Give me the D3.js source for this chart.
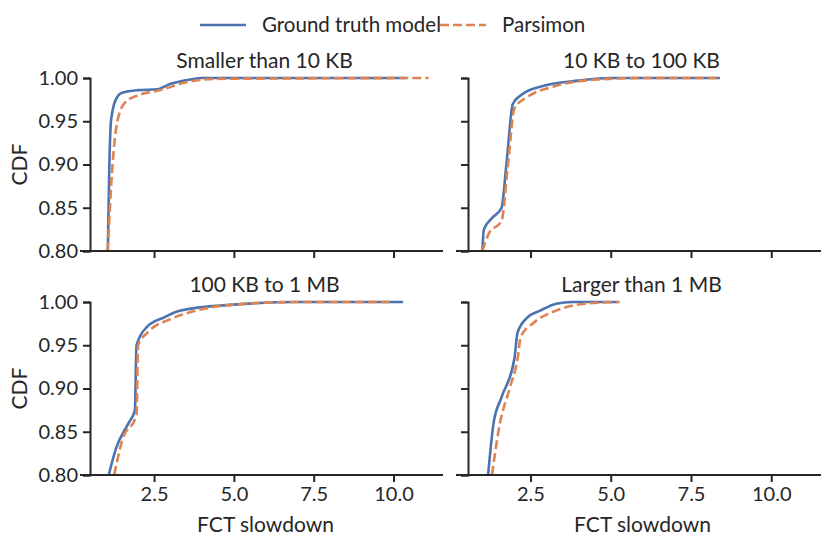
<!DOCTYPE html>
<html><head><meta charset="utf-8">
<script src="https://cdn.jsdelivr.net/npm/d3@7"></script>
<style>body{margin:0;background:#fff}text{font-family:Lato,"DejaVu Sans",sans-serif;fill:#262626}</style>
</head><body><div id="chart"></div>
<script>
let w = 830, h = 548;
let titles = ["Smaller than 10 KB","10 KB to 100 KB","100 KB to 1 MB","Larger than 1 MB"];
let seriesNames = ["Ground truth model","Parsimon"];
let colors = ["#4c72b0","#dd8452"];
let xTicks = [2.5,5.0,7.5,10.0];
let yTicks = [0.80,0.85,0.90,0.95,1.00];

// [x, cdf] pairs per panel
let truth = [
  [[1.05,0.80],[1.1,0.9],[1.15,0.95],[1.3,0.975],[1.5,0.983],[2.0,0.986],[2.6,0.987],[3.0,0.993],[3.6,0.998],[4.0,1.0],[10.4,1.0]],
  [[1.0,0.80],[1.05,0.825],[1.3,0.838],[1.6,0.85],[1.75,0.9],[1.95,0.97],[2.2,0.98],[2.8,0.99],[4.0,0.997],[5.0,1.0],[8.4,1.0]],
  [[1.08,0.80],[1.3,0.83],[1.7,0.86],[1.9,0.875],[1.95,0.95],[2.3,0.972],[2.8,0.982],[3.3,0.99],[5.0,0.997],[7.0,1.0],[10.3,1.0]],
  [[1.18,0.80],[1.35,0.86],[1.6,0.89],[2.0,0.935],[2.1,0.965],[2.4,0.982],[2.8,0.99],[3.3,0.998],[3.8,1.0],[5.2,1.0]]
];
let parsimon = [
  [[1.05,0.80],[1.2,0.9],[1.35,0.95],[1.6,0.972],[2.0,0.98],[2.7,0.986],[3.5,0.995],[4.5,0.999],[11.1,1.0]],
  [[1.0,0.80],[1.2,0.82],[1.6,0.835],[1.8,0.9],[2.0,0.965],[2.4,0.978],[3.2,0.99],[4.5,0.998],[6.0,1.0],[8.4,1.0]],
  [[1.25,0.80],[1.5,0.84],[1.95,0.87],[2.0,0.95],[2.3,0.965],[3.0,0.98],[3.8,0.99],[5.0,0.997],[7.0,1.0],[10.0,1.0]],
  [[1.3,0.80],[1.55,0.86],[1.85,0.9],[2.1,0.935],[2.2,0.96],[2.6,0.976],[3.3,0.99],[4.2,0.998],[5.28,1.0]]
];

let svg = d3.select("#chart").append("svg").attr("width", w).attr("height", h);

// legend
seriesNames.forEach(function(name, i){
  let lx = [200, 440][i];
  svg.append("line").attr("x1", lx).attr("x2", lx+46).attr("y1", 25).attr("y2", 25)
    .attr("stroke", colors[i]).attr("stroke-width", 2.6)
    .attr("stroke-dasharray", i == 1 ? "9,4" : null);
  svg.append("text").attr("x", lx+62).attr("y", 32).attr("font-size", 20.5).text(name);
});

let panels = [
  {x0:80, x1:443, spine:90, y0:78, y1:251},
  {x0:456, x1:821, spine:468, y0:78, y1:251},
  {x0:80, x1:443, spine:90, y0:302, y1:475},
  {x0:456, x1:821, spine:468, y0:302, y1:475}
];

panels.forEach(function(p, k){
  let x = d3.scaleLinear().domain([0.18, 11.55]).range([p.x0, p.x1]);
  let y = d3.scaleLinear().domain([0.80, 1.00]).range([p.y1, p.y0]);
  let g = svg.append("g");

  let line = d3.line().x(d => x(d[0])).y(d => y(d[1])).curve(d3.curveMonotoneX);
  g.append("path").datum(truth[k]).attr("d", line).attr("fill", "none")
    .attr("stroke", colors[0]).attr("stroke-width", 2.6);
  g.append("path").datum(parsimon[k]).attr("d", line).attr("fill", "none")
    .attr("stroke", colors[1]).attr("stroke-width", 2.6).attr("stroke-dasharray", "9,4");

  // bottom axis
  let xa = d3.axisBottom(x).tickValues(xTicks).tickSize(7).tickPadding(5)
    .tickFormat(k >= 2 ? d3.format(".1f") : "");
  let gx = g.append("g").attr("transform", "translate(0," + p.y1 + ")").call(xa);
  gx.select(".domain").attr("d", "M" + p.x0 + ",0H" + p.x1);
  // left axis
  let ya = d3.axisLeft(y).tickValues(yTicks).tickSize(7).tickPadding(5)
    .tickFormat(k % 2 == 0 ? d3.format(".2f") : "");
  let gy = g.append("g").attr("transform", "translate(" + p.spine + ",0)").call(ya);
  [gx, gy].forEach(function(a){
    a.selectAll(".domain,line").attr("stroke", "#262626").attr("stroke-width", 2);
    a.selectAll("text").attr("font-size", 20).attr("font-family", null);
  });

  g.append("text").attr("x", (p.x0 + p.x1)/2 + 3).attr("y", p.y0 - 10)
    .attr("text-anchor", "middle").attr("font-size", 21).text(titles[k]);
  if (k >= 2) g.append("text").attr("x", (p.x0 + p.x1)/2 + 4).attr("y", p.y1 + 57)
    .attr("text-anchor", "middle").attr("font-size", 21).text("FCT slowdown");
  if (k % 2 == 0) g.append("text")
    .attr("transform", "translate(27," + (p.y0 + p.y1)/2 + ") rotate(-90)")
    .attr("text-anchor", "middle").attr("font-size", 21).text("CDF");
});
</script></body></html>
